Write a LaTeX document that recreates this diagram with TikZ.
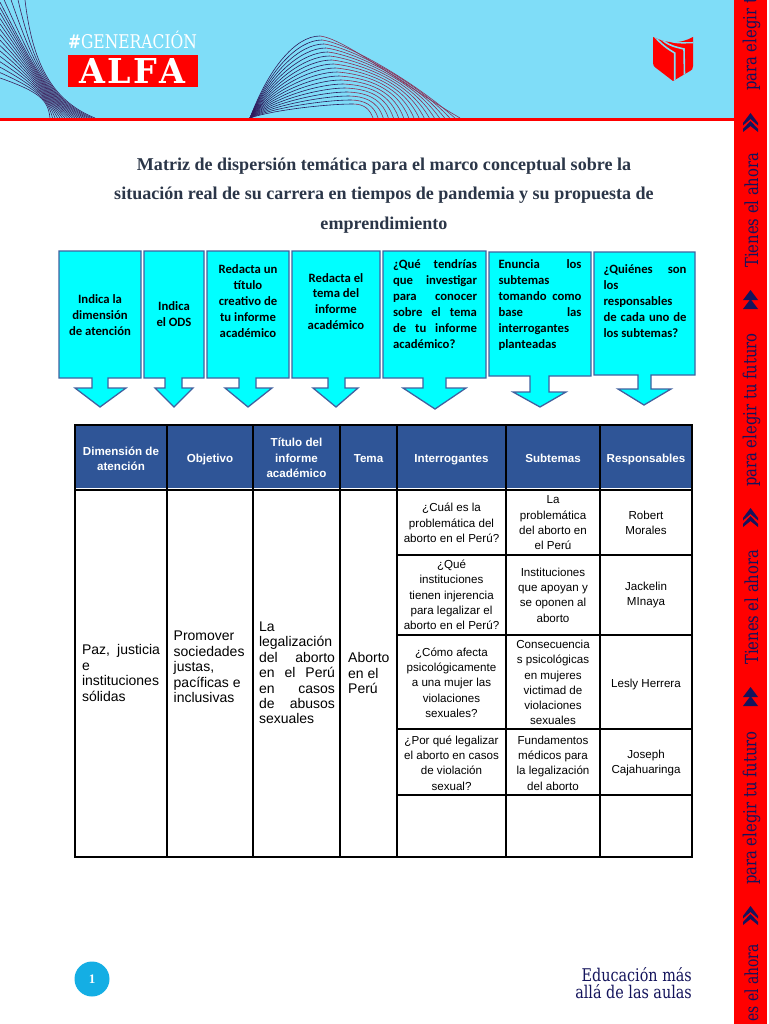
\documentclass[tikz,border=0pt]{standalone}
\usepackage{fontspec}
\setmainfont{Liberation Sans}
\newfontfamily\boxfont{Carlito}
\newfontfamily\titlefont{Liberation Serif}
\newfontfamily\slab[FakeStretch=0.82]{DejaVu Serif}
\newfontfamily\headslab{DejaVu Serif}
\definecolor{sky}{HTML}{7FDDF8}
\definecolor{brand}{HTML}{FF0000}
\definecolor{cyanbox}{HTML}{00FFFF}
\definecolor{boxline}{HTML}{41619F}
\definecolor{headblue}{HTML}{2F5597}
\definecolor{navy}{HTML}{14145C}
\definecolor{wine}{HTML}{8A2E55}
\definecolor{titleink}{HTML}{2B3648}
\definecolor{pagedot}{HTML}{14AEE4}
\newcommand{\jl}[2]{\makebox[#1][s]{#2}}
\tikzset{
  callout/.style={draw=boxline,fill=cyanbox,line width=1.3pt,line join=miter},
  boxtext/.style={inner sep=0pt,align=center,text=black,font=\boxfont\bfseries\fontsize{12.7}{15.9}\selectfont},
  boxleft/.style={boxtext,align=left},
  headtext/.style={inner sep=0pt,align=center,text=white,font=\bfseries\fontsize{11.6}{15.3}\selectfont},
  headone/.style={headtext,anchor=base},
  celltext/.style={inner sep=0pt,align=center,text=black,font=\fontsize{11.6}{15.3}\selectfont},
  bigtext/.style={inner sep=0pt,align=left,text=black,font=\fontsize{14}{15.4}\selectfont},
  gridline/.style={line width=2.5pt,black,line cap=rect},
  side/.style={rotate=90,inner sep=0pt,text=navy,font=\slab\fontsize{18}{18}\selectfont},
  titletext/.style={inner sep=0pt,text=titleink,font=\titlefont\bfseries\fontsize{18.05}{20}\selectfont},
  thinwave/.style={line width=.6pt}
}
\begin{document}
\begin{tikzpicture}[x=1pt,y=-1pt]
\useasboundingbox (0,0) rectangle (768,1024);
\fill[white] (0,0) rectangle (768,1024);
% banner
\fill[sky] (0,0) rectangle (734,118);
\begin{scope}
\clip (0,0) rectangle (734,118);
% left wave
\foreach \i in {0,...,18}{
  \pgfmathsetmacro{\t}{\i/18}
  \pgfmathsetmacro{\sx}{max(0,25-125*\t)}
  \pgfmathsetmacro{\sy}{max(0,78*(\t-.2)/.8)}
  \pgfmathsetmacro{\cax}{32+8*\t}
  \pgfmathsetmacro{\cay}{60+32*\t}
  \pgfmathsetmacro{\cbx}{50-2*\t}
  \pgfmathsetmacro{\ex}{95-45*\t}
  \draw[thinwave,navy!65!wine] (\sx,\sy) .. controls (\cax,\cay) and (\cbx,100) .. (\ex,118);
}
% hump
\foreach \i in {0,...,17}{
  \pgfmathsetmacro{\t}{\i/17}
  \pgfmathsetmacro{\px}{320+33*\t}
  \pgfmathsetmacro{\py}{36+68*\t}
  \pgfmathsetmacro{\ex}{460-87*\t}
  \pgfmathsetmacro{\lax}{268+6*\t}
  \pgfmathsetmacro{\lay}{\py+(118-\py)*.41}
  \pgfmathsetmacro{\lbx}{\px-25}
  \pgfmathsetmacro{\rax}{\px+25-13*\t}
  \pgfmathsetmacro{\ray}{\py+3-3*\t}
  \pgfmathsetmacro{\rbx}{\ex-60+57*pow(\t,.4)}
  \pgfmathsetmacro{\rby}{83+(\py+6-83)*\t}
  \draw[thinwave,navy!80!wine] (250,118) .. controls (\lax,\lay) and (\lbx,\py) .. (\px,\py);
  \draw[thinwave,wine] (\px,\py) .. controls (\rax,\ray) and (\rbx,\rby) .. (\ex,118);
}
\end{scope}
\fill[brand] (0,118) rectangle (734,121.5);
% brand
\node[inner sep=0pt,text=white] (hash) at (132.5,39.8) {\resizebox{129pt}{17.5pt}{\headslab{\bfseries\#}GENERACIÓN}};
\node[fill=brand,minimum width=129.5pt,minimum height=32pt,inner sep=0pt] (alfabox) at (132.8,71) {};
\node[inner sep=0pt,text=white] (alfa) at (132.5,70.8) {\resizebox{105pt}{25pt}{\headslab\bfseries A\kern.6pt L\kern.6pt F\kern.6pt A}};
% shield
\begin{scope}
\clip (653,37) .. controls (668,44) and (680,44) .. (693,37) -- (693,66) .. controls (693,69) and (692,70) .. (690,71) -- (673,81) -- (656,68) .. controls (654,67) and (653,65) .. (653,63) -- cycle;
\fill[brand] (650,30) rectangle (696,85);
\draw[sky,line width=1.6pt] (655,37) .. controls (664,47) and (670,50) .. (674.7,53) -- (674.7,85);
\draw[sky,line width=1.6pt] (659,37) .. controls (668,46) and (676,47) .. (684,49) -- (684.7,85);
\draw[sky,line width=1.3pt] (663,38) .. controls (672,44) and (682,43) .. (696,42.5);
\end{scope}
% sidebar
\fill[brand] (734,0) rectangle (767,1024);
\node[side,anchor=west] (s1) at (751.5,91) {para elegir t};
\node[side,anchor=west] (s2) at (751.5,268) {Tienes el ahora};
\node[side,anchor=west] (s3) at (751.5,487) {para elegir tu futuro};
\node[side,anchor=west] (s4) at (751.5,665) {Tienes el ahora};
\node[side,anchor=west] (s5) at (751.5,885) {para elegir tu futuro};
\node[side,anchor=east] (s6) at (751.5,944) {\scalebox{.94}[1]{es el ahora}};
\foreach \cy in {122,517,915}{
  \fill[navy] (743,\cy+1) -- (750.5,\cy-9) -- (758,\cy+1) -- (758,\cy+3.5) -- (750.5,\cy-3) -- (743,\cy+3.5) -- cycle;
  \fill[navy] (743,\cy+7) -- (750.5,\cy-1) -- (758,\cy+7) -- (758,\cy+10) -- (750.5,\cy+4) -- (743,\cy+10) -- cycle;
}
\foreach \cy in {300,697}{
  \fill[navy] (743,\cy) -- (750.5,\cy-10) -- (758,\cy) -- cycle;
  \fill[navy] (743,\cy+9) -- (750.5,\cy-1) -- (758,\cy+9) -- cycle;
}
% title
\node[titletext] (t1) at (384,166) {Matriz de dispersión temática para el marco conceptual sobre la};
\node[titletext] (t2) at (384,195.5) {situación real de su carrera en tiempos de pandemia y su propuesta de};
\node[titletext] (t3) at (384,225) {emprendimiento};
% callouts
\draw[callout] (59,251) -- (141,251) -- (141,378) -- (108,378) -- (108,388) -- (126,388) -- (100,407) -- (75,388) -- (92,388) -- (92,378) -- (59,378) -- cycle;
\draw[callout] (144,251) -- (204,251) -- (204,378) -- (182,378) -- (182,388) -- (193,388) -- (174,407) -- (155,388) -- (165,388) -- (165,378) -- (144,378) -- cycle;
\draw[callout] (207,251) -- (289,251) -- (289,378) -- (256,378) -- (256,388) -- (272,388) -- (248,407) -- (225,388) -- (239,388) -- (239,378) -- (207,378) -- cycle;
\draw[callout] (292,251) -- (380,251) -- (380,378) -- (345,378) -- (345,388) -- (358,388) -- (336,407) -- (313,388) -- (328,388) -- (328,378) -- (292,378) -- cycle;
\draw[callout] (383,251) -- (486,251) -- (486,378) -- (446,378) -- (446,388) -- (466,388) -- (435,409) -- (403,388) -- (423,388) -- (423,378) -- (383,378) -- cycle;
\draw[callout] (489,252) -- (591,252) -- (591,376) -- (549,376) -- (549,392) -- (566,392) -- (540,407) -- (513,392) -- (530,392) -- (530,376) -- (489,376) -- cycle;
\draw[callout] (594,252) -- (695,252) -- (695,375) -- (651,375) -- (651,389) -- (671,389) -- (644,405) -- (618,389) -- (638,389) -- (638,375) -- (594,375) -- cycle;
\node[boxtext] (b1) at (100,315) {Indica la\\dimensión\\de atención};
\node[boxtext] (b2) at (174,314) {Indica\\el ODS};
\node[boxtext] (b3) at (248,301) {Redacta un\\título\\creativo de\\tu informe\\académico};
\node[boxtext] (b4) at (336,301.5) {Redacta el\\tema del\\informe\\académico};
\node[boxleft] (b5) at (435,304) {\jl{84pt}{¿Qué tendrías}\\\jl{84pt}{que investigar}\\\jl{84pt}{para conocer}\\\jl{84pt}{sobre el tema}\\\jl{84pt}{de tu informe}\\académico?};
\node[boxleft] (b6) at (540,305) {\jl{83pt}{Enuncia los}\\subtemas\\\jl{83pt}{tomando como}\\\jl{83pt}{base las}\\interrogantes\\planteadas};
\node[boxleft] (b7) at (645,301) {\jl{83pt}{¿Quiénes son}\\los\\responsables\\\jl{83pt}{de cada uno de}\\los subtemas?};
% table header
\foreach \a/\b in {75/167,167/253,253/340,340/397,397/506,506/600,600/692}{
  \fill[headblue] (\a,425) rectangle (\b,488);
}
% table grid
\draw[gridline] (75,425) rectangle (692,857);
\draw[gridline] (75,490) -- (692,490);
\draw[white,line width=.8pt] (77,488.3) -- (690,488.3);
\foreach \gx in {167,253,340,397,506,600}{\draw[gridline] (\gx,425) -- (\gx,857);}
\foreach \gy in {555,635,729,795}{\draw[gridline] (397,\gy) -- (692,\gy);}
% header text
\node[headtext] (h1) at (121,458.5) {Dimensión de\\atención};
\node[headone] (h2) at (210,462.3) {Objetivo};
\node[headtext] (h3) at (296.5,458) {Título del\\informe\\académico};
\node[headone] (h4) at (368.5,462.3) {Tema};
\node[headone] (h5) at (451.5,462.3) {Interrogantes};
\node[headone] (h6) at (553,462.3) {Subtemas};
\node[headone] (h7) at (646,462.3) {Responsables};
% merged cells
\node[bigtext] (c1) at (121,673) {\jl{78pt}{Paz, justicia}\\e\\instituciones\\sólidas};
\node[bigtext,anchor=west] (c2) at (173.5,667) {Promover\\sociedades\\justas,\\pacíficas e\\inclusivas};
\node[bigtext] (c3) at (297,673) {La\\legalización\\\jl{76pt}{del aborto}\\\jl{76pt}{en el Perú}\\\jl{76pt}{en casos}\\\jl{76pt}{de abusos}\\sexuales};
\node[bigtext,anchor=west] (c4) at (348,673) {Aborto\\en el\\Perú};
% rows
\node[celltext] (q1) at (451.5,523) {¿Cuál es la\\problemática del\\aborto en el Perú?};
\node[celltext] (q2) at (451.5,595) {¿Qué\\instituciones\\tienen injerencia\\para legalizar el\\aborto en el Perú?};
\node[celltext] (q3) at (451.5,682.5) {¿Cómo afecta\\psicológicamente\\a una mujer las\\violaciones\\sexuales?};
\node[celltext] (q4) at (451.5,763) {¿Por qué legalizar\\el aborto en casos\\de violación\\sexual?};
\node[celltext] (a1) at (553,523) {La\\problemática\\del aborto en\\el Perú};
\node[celltext] (a2) at (553,595) {Instituciones\\que apoyan y\\se oponen al\\aborto};
\node[celltext] (a3) at (553,682.5) {Consecuencia\\s psicológicas\\en mujeres\\victimad de\\violaciones\\sexuales};
\node[celltext] (a4) at (553,763) {Fundamentos\\médicos para\\la legalización\\del aborto};
\node[celltext] (r1) at (646,523) {Robert\\Morales};
\node[celltext] (r2) at (646,595) {Jackelin\\MInaya};
\node[celltext,anchor=base] (r3) at (646,687) {Lesly Herrera};
\node[celltext] (r4) at (646,763) {Joseph\\Cajahuaringa};
% footer
\node[circle,fill=pagedot,draw=none,minimum size=35pt,inner sep=0pt] (pg) at (92,979) {};
\node[inner sep=0pt,text=white,font=\titlefont\bfseries\fontsize{13}{13}\selectfont] (pgn) at (pg.center) {1};
\node[inner sep=0pt,anchor=east,align=right,text=navy,font=\slab\fontsize{17.5}{17}\selectfont] (foot) at (692,983.5) {Educación más\\allá de las aulas};
\end{tikzpicture}
\end{document}
